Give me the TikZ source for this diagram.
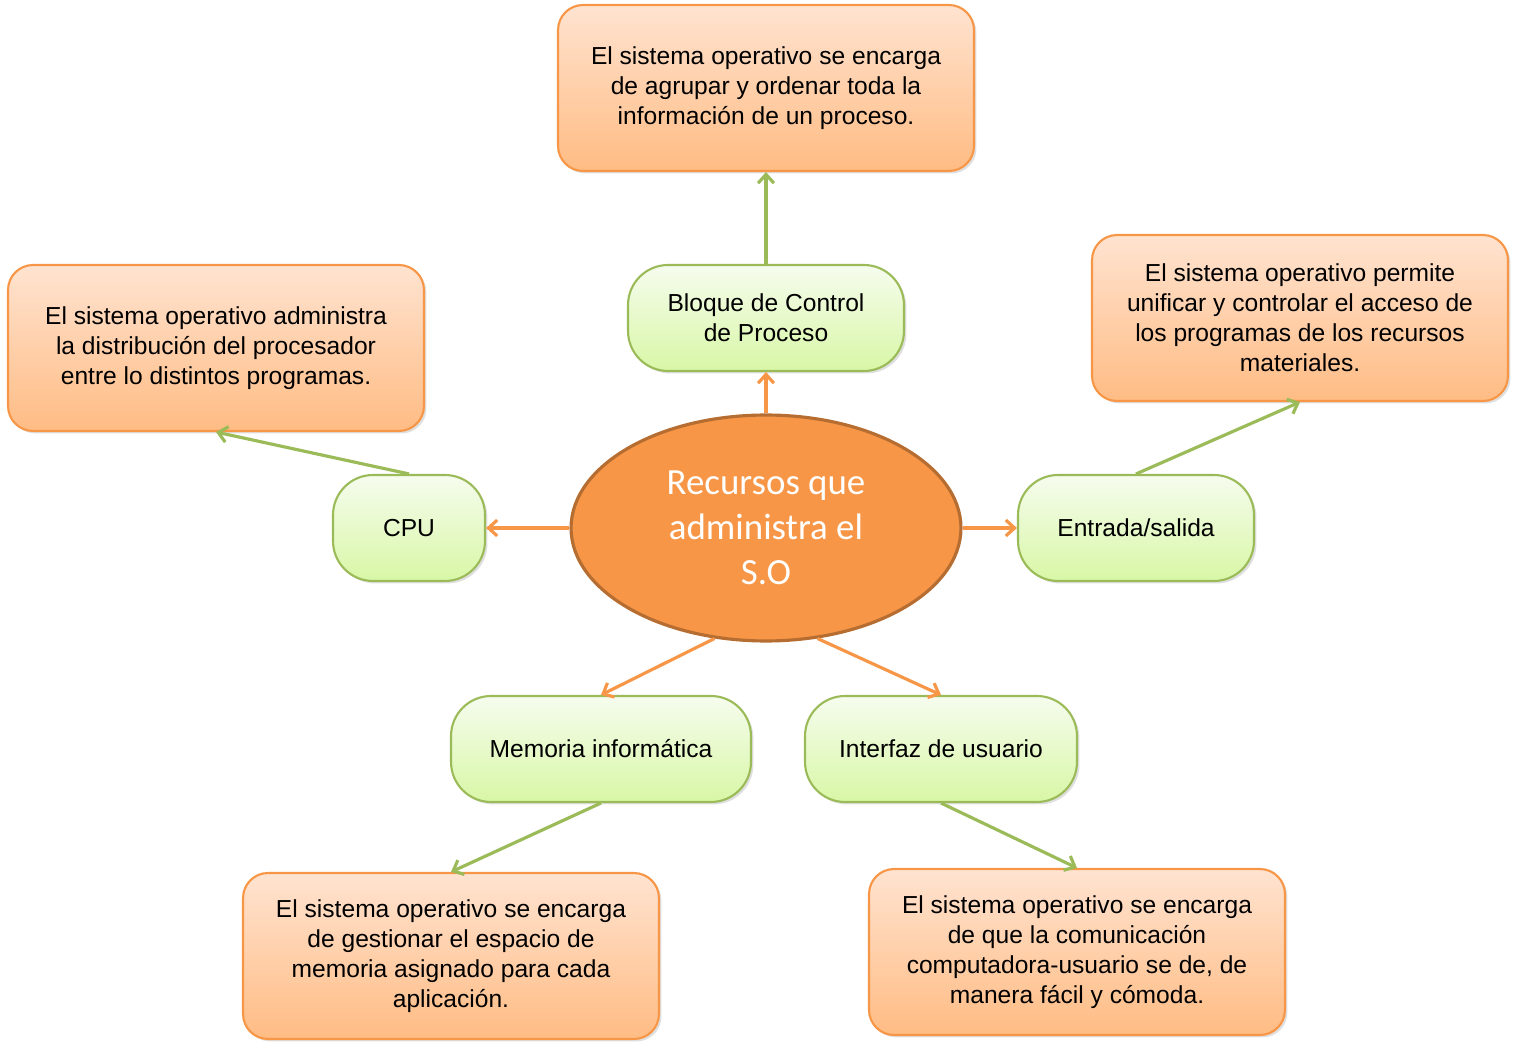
\documentclass[tikz,border=0pt]{standalone}
\usepackage{fontspec}
\setmainfont{Liberation Sans}
\newfontfamily\calib{Carlito}
\usetikzlibrary{arrows.meta,shadows,shapes.geometric}
\definecolor{orborder}{HTML}{F79646}
\definecolor{ortop}{HTML}{FFE3D0}
\definecolor{orbot}{HTML}{FFBC84}
\definecolor{grborder}{HTML}{9BBB59}
\definecolor{grtop}{HTML}{F6FCEE}
\definecolor{grbot}{HTML}{D8F7A6}
\definecolor{elborder}{HTML}{B66D31}

\begin{document}
\begin{tikzpicture}[
    x=0.02cm, y=-0.02cm,
    infobox/.style = {
      shape=rectangle, rounded corners=0.5cm, draw=orborder, line width=1.2pt,
      align=center, top color=ortop, bottom color=orbot,
      minimum width=8.32cm, minimum height=3.32cm, font=\fontsize{14}{17}\selectfont,
      drop shadow={opacity=0.25, shadow xshift=0.05cm, shadow yshift=-0.05cm}
    },
    topic/.style = {
      shape=rectangle, rounded corners=0.8cm, draw=grborder, line width=1.2pt,
      align=center, top color=grtop, bottom color=grbot,
      minimum height=2.12cm, font=\fontsize{14}{17}\selectfont,
      drop shadow={opacity=0.25, shadow xshift=0.05cm, shadow yshift=-0.05cm}
    },
    orarrow/.style = {draw=orborder, line width=1.8pt, -{Straight Barb[length=5pt,width=9pt]}},
    grarrow/.style = {draw=grborder, line width=1.8pt, -{Straight Barb[length=5pt,width=9pt]}}
  ]
  \useasboundingbox (0,0) rectangle (1516,1050);

  % centre
  \node (so) [ellipse, draw=elborder, line width=1.8pt, fill=orborder,
    minimum width=7.8cm, minimum height=4.52cm, align=center, text=white,
    font=\calib\fontsize{21}{25.5}\selectfont] at (766,528)
    {Recursos que\\administra el\\S.O};

  % resources
  \node (pcb) [topic, minimum width=5.52cm] at (766,318) {Bloque de Control\\de Proceso};
  \node (cpu) [topic, minimum width=3.04cm] at (409,528) {CPU};
  \node (io)  [topic, minimum width=4.72cm] at (1136,528) {Entrada/salida};
  \node (mem) [topic, minimum width=6cm] at (601,749) {Memoria informática};
  \node (ui)  [topic, minimum width=5.44cm] at (941,749) {Interfaz de usuario};

  % descriptions
  \node (pcbtxt) [infobox] at (766,88)
    {El sistema operativo se encarga\\de agrupar y ordenar toda la\\información de un proceso.};
  \node (cputxt) [infobox] at (216,348)
    {El sistema operativo administra\\la distribución del procesador\\entre lo distintos programas.};
  \node (iotxt) [infobox] at (1300,318)
    {El sistema operativo permite\\unificar y controlar el acceso de\\los programas de los recursos\\materiales.};
  \node (memtxt) [infobox] at (451,956)
    {El sistema operativo se encarga\\de gestionar el espacio de\\memoria asignado para cada\\aplicación.};
  \node (uitxt) [infobox] at (1077,952)
    {El sistema operativo se encarga\\de que la comunicación\\computadora-usuario se de, de\\manera fácil y cómoda.};

  % connectors
  \draw[orarrow] (so.north) -- (pcb.south);
  \draw[orarrow] (so.west) -- (cpu.east);
  \draw[orarrow] (so.east) -- (io.west);
  \draw[orarrow] (so.-115) -- (mem.north);
  \draw[orarrow] (so.-65) -- (ui.north);
  \draw[grarrow] (pcb.north) -- (pcbtxt.south);
  \draw[grarrow] (cpu.north) -- (cputxt.south);
  \draw[grarrow] (io.north) -- (iotxt.south);
  \draw[grarrow] (mem.south) -- (memtxt.north);
  \draw[grarrow] (ui.south) -- (uitxt.north);
\end{tikzpicture}
\end{document}
